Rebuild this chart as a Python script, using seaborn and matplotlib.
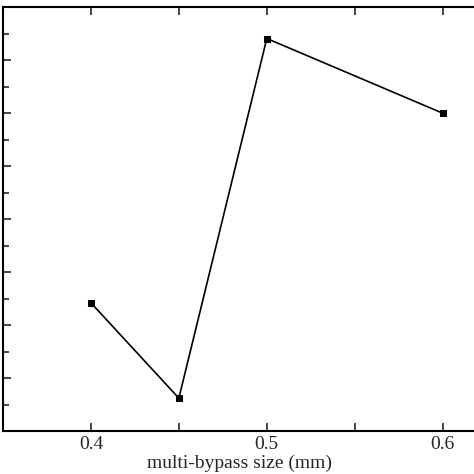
import matplotlib
matplotlib.use('Agg')
import matplotlib.pyplot as plt
import seaborn as sns
from matplotlib.ticker import MultipleLocator

# === Data ===
bypass_size = [0.4, 0.45, 0.5, 0.6]
response = [2.42, 0.62, 7.41, 6.0]

sns.set_style('ticks')
plt.rcParams['font.family'] = ['Liberation Serif', 'DejaVu Serif']

fig = plt.figure(figsize=(4.74, 4.74), dpi=100)
ax = fig.add_axes([0.0063, 0.0907, 1.0, 0.894])

sns.lineplot(x=bypass_size, y=response, ax=ax, color='black', linewidth=1.2,
             marker='s', markersize=4, markeredgecolor='black')

ax.set_xlim(0.35, 0.6195)
ax.set_ylim(0, 8)
ax.xaxis.set_major_locator(MultipleLocator(0.1))
ax.xaxis.set_minor_locator(MultipleLocator(0.05))
ax.yaxis.set_major_locator(MultipleLocator(1))
ax.yaxis.set_minor_locator(MultipleLocator(0.5))
ax.set_yticklabels([])
ax.tick_params(which='both', direction='in', top=True, width=1.2)
ax.tick_params(which='major', length=6, labelsize=14)
ax.tick_params(which='minor', length=4)
ax.tick_params(axis='x', which='minor', length=6)
for s in ax.spines.values():
    s.set_linewidth(1.5)
    s.set_color('black')
ax.set_xlabel('multi-bypass size (mm)', fontsize=14, labelpad=1)

fig.savefig('out.png', dpi=100)
